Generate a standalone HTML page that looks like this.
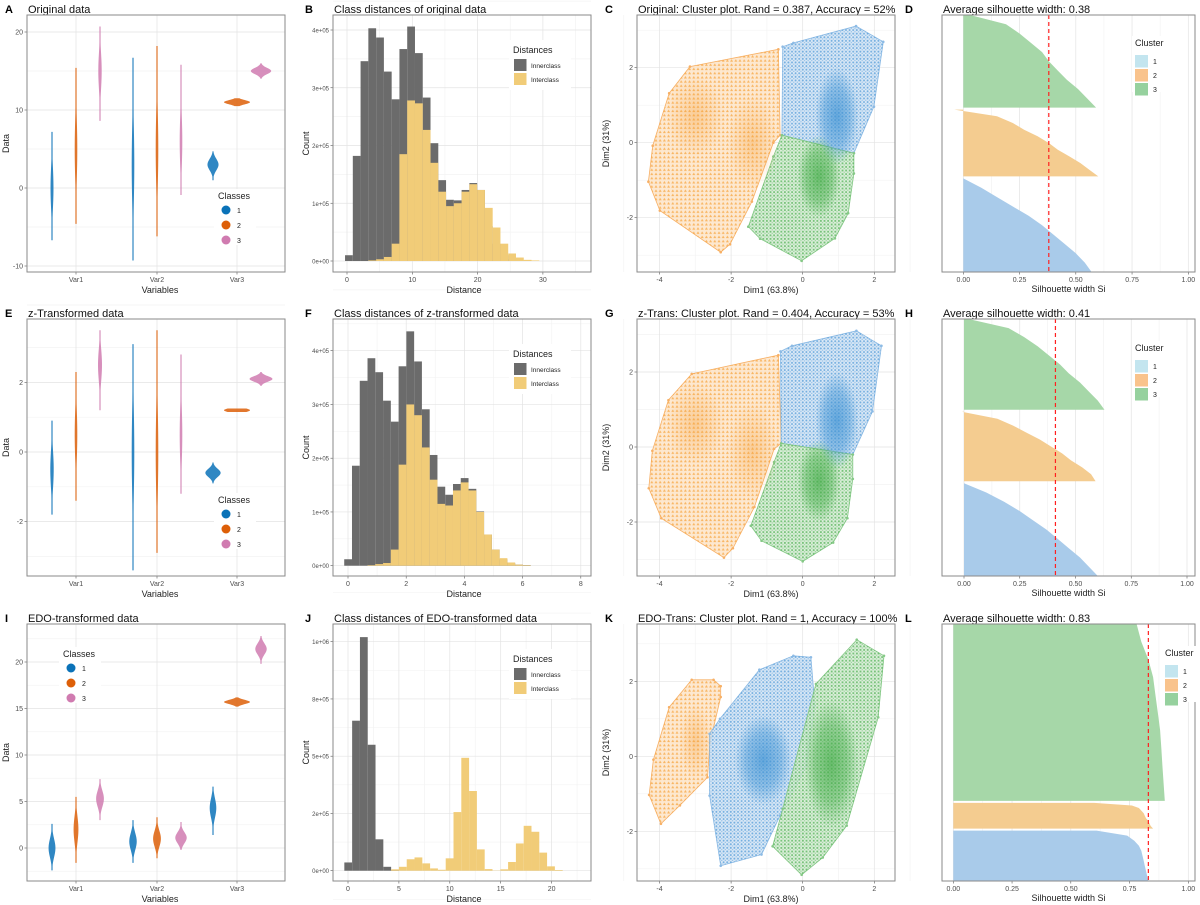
<!DOCTYPE html>
<html><head><meta charset="utf-8">
<style>
html,body{margin:0;padding:0;background:#fff;}
svg{display:block;font-family:"Liberation Sans",sans-serif;}
</style></head>
<body>
<svg id="fig" width="1200" height="905" viewBox="0 0 1200 905">
<defs>
<pattern id="pdot-blue" width="3.6" height="3.6" patternUnits="userSpaceOnUse"><circle cx="1.2" cy="1.2" r="1.0" fill="#4a98d6" opacity="0.7"/><circle cx="3" cy="3" r="0.8" fill="#4a98d6" opacity="0.45"/></pattern>
<pattern id="pdot-green" width="3.6" height="3.6" patternUnits="userSpaceOnUse"><rect x="0.4" y="0.4" width="1.8" height="1.8" fill="#4cb050" opacity="0.7"/><rect x="2.4" y="2.4" width="1.4" height="1.4" fill="#4cb050" opacity="0.45"/></pattern>
<pattern id="pdot-orange" width="4.2" height="4.2" patternUnits="userSpaceOnUse"><path d="M1.4 0.3 L2.9 2.9 L-0.1 2.9 Z" fill="#f7a136" opacity="0.7"/></pattern>
<radialGradient id="core-blue"><stop offset="0" stop-color="#3f93d4" stop-opacity="0.75"/><stop offset="0.6" stop-color="#3f93d4" stop-opacity="0.45"/><stop offset="1" stop-color="#3f93d4" stop-opacity="0"/></radialGradient>
<radialGradient id="core-green"><stop offset="0" stop-color="#46ad4b" stop-opacity="0.75"/><stop offset="0.6" stop-color="#46ad4b" stop-opacity="0.45"/><stop offset="1" stop-color="#46ad4b" stop-opacity="0"/></radialGradient>
<radialGradient id="core-orange"><stop offset="0" stop-color="#f59a2c" stop-opacity="0.35"/><stop offset="1" stop-color="#f59a2c" stop-opacity="0"/></radialGradient>
</defs>
</svg>
<script>
// ---------- DATA ----------
const violinVars = ['Var1','Var2','Var3'];
const classLabels = ['1','2','3'];
const A_min = [[-6.7,-4.6,8.6],[-9.3,-6.2,-0.9],[1.0,10.5,14.0]];
const A_mid = [[0,5,15],[3,5,6],[3,11,15]];
const A_max = [[7.2,15.4,20.7],[16.7,18.2,15.8],[4.7,11.5,16.0]];
const A_ticks = [-10,0,10,20];
const E_min = [[-1.8,-1.4,1.2],[-3.4,-2.9,-1.2],[-0.9,1.15,1.9]];
const E_mid = [[-0.5,0.5,2.5],[0,0,0.5],[-0.6,1.2,2.1]];
const E_max = [[0.9,2.3,3.5],[3.1,3.5,2.8],[-0.3,1.25,2.3]];
const E_ticks = [-2,0,2];
const I_min = [[-2.4,-1.6,3.0],[-1.6,-1.1,-0.2],[1.4,15.2,19.8]];
const I_mid = [[0,2,5.3],[0.7,1,1.1],[4.3,15.7,21.4]];
const I_max = [[2.6,5.5,7.4],[3.0,3.3,2.8],[6.6,16.2,22.8]];
const I_ticks = [0,5,10,15,20];

const B_inner = [0.1,1.82,3.46,4.03,3.87,3.28,2.8,3.67,4.06,3.6,2.83,2.04,1.4,1.06,1.05,1.23,1.35,1.23,0.6,0.3,0.1,0.03,0.01,0,0,0,0,0,0,0];
const B_inter = [0,0,0,0.01,0.03,0.07,0.3,1.85,2.78,2.73,2.27,1.7,1.2,0.95,1.0,1.2,1.33,1.23,0.92,0.58,0.3,0.13,0.06,0.02,0.01,0,0,0,0,0];
const B_xticks = [0,10,20,30];
const B_yticks = [0,1,2,3,4];
const B_ylabels = ['0e+00','1e+05','2e+05','3e+05','4e+05'];
const F_inner = [0.12,1.86,3.44,3.86,3.6,3.07,2.68,3.71,4.36,3.8,2.91,2.06,1.47,1.32,1.52,1.63,1.43,1.01,0.58,0.3,0.12,0.05,0.02,0.01,0,0,0,0,0,0];
const F_inter = [0,0,0,0.01,0.03,0.05,0.3,1.88,3.0,2.8,2.2,1.6,1.15,1.12,1.4,1.55,1.4,1.0,0.58,0.3,0.14,0.06,0.02,0.01,0,0,0,0,0,0];
const F_xticks = [0,2,4,6,8];
const F_yticks = [0,1,2,3,4];
const F_ylabels = ['0e+00','1e+05','2e+05','3e+05','4e+05'];
const J_inner = [0.36,6.55,10.2,5.5,1.37,0.17,0.03,0,0,0,0,0,0,0,0,0,0,0,0,0,0,0,0,0,0,0,0,0];
const J_inter = [0,0,0,0,0,0,0.06,0.17,0.5,0.58,0.32,0.1,0.04,0.54,2.56,4.93,3.48,0.93,0.07,0.01,0.06,0.38,1.19,1.96,1.7,0.79,0.19,0.03];
const J_xticks = [0,5,10,15,20];
const J_yticks = [0,2.5,5,7.5,10];
const J_ylabels = ['0e+00','2e+05','5e+05','8e+05','1e+06'];

const C_hull_orange = [[-0.68,2.49],[-3.15,2.03],[-3.73,1.32],[-4.19,-0.08],[-4.31,-1.04],[-3.99,-1.81],[-2.29,-2.92],[-2.03,-2.71],[-1.42,-1.57],[-0.82,0.0],[-0.63,0.2]];
const C_hull_blue = [[-0.56,2.56],[-0.26,2.66],[1.49,3.11],[2.25,2.69],[1.99,0.96],[1.43,-0.28],[-0.58,0.2]];
const C_hull_green = [[-0.58,0.2],[1.43,-0.28],[1.43,-0.82],[1.27,-1.88],[0.9,-2.55],[-0.03,-3.15],[-1.19,-2.56],[-1.52,-2.24],[-0.82,-0.37]];
const C_cores = [[0.95,0.7,0.6,1.3,'blue'],[0.45,-0.9,0.6,1.1,'green'],[-3.0,0.7,0.8,1.1,'orange'],[-1.4,0.0,0.7,1.3,'orange']];
const G_hull_orange = [[-0.68,2.45],[-3.1,1.95],[-3.75,1.25],[-4.2,-0.1],[-4.3,-1.1],[-3.95,-1.9],[-2.2,-2.95],[-1.95,-2.7],[-1.35,-1.6],[-0.8,-0.05],[-0.6,0.1]];
const G_hull_blue = [[-0.62,2.55],[-0.3,2.7],[1.5,3.1],[2.2,2.7],[1.95,0.95],[1.4,-0.2],[-0.6,0.1]];
const G_hull_green = [[-0.6,0.1],[1.4,-0.2],[1.4,-0.85],[1.25,-1.9],[0.85,-2.55],[0.0,-3.05],[-1.15,-2.5],[-1.45,-2.1],[-0.8,-0.4]];
const G_cores = [[0.95,0.7,0.6,1.3,'blue'],[0.45,-0.9,0.6,1.1,'green'],[-3.0,0.6,0.8,1.1,'orange'],[-1.4,-0.1,0.7,1.3,'orange']];
const K_hull_orange = [[-3.1,2.04],[-2.49,2.04],[-2.29,1.87],[-2.29,1.58],[-2.59,0.37],[-2.66,-0.56],[-3.43,-1.31],[-3.96,-1.8],[-4.29,-1.03],[-4.17,-0.09],[-3.73,1.31]];
const K_hull_blue = [[-1.21,2.31],[-0.26,2.68],[0.23,2.64],[0.34,1.35],[0.11,-0.25],[-0.63,-1.58],[-1.15,-2.62],[-2.29,-2.92],[-2.6,-1.05],[-2.6,0.6],[-2.31,1.0]];
const K_hull_green = [[1.51,3.11],[2.27,2.68],[2.11,1.04],[1.23,-1.85],[0.56,-2.7],[-0.03,-3.16],[-0.84,-2.4],[-0.56,-1.4],[0.37,1.93]];
const K_cores = [[0.8,-0.2,0.75,1.7,'green'],[-1.1,-0.1,0.8,1.2,'blue'],[-3.0,0.4,0.45,1.0,'orange']];
const scat_xticks = [-4,-2,0,2];
const scat_yticks = [-2,0,2];

const D_sil = [[0.0,0.08,0.15,0.22,0.29,0.35,0.4,0.45,0.5,0.54,0.57],[-0.04,0.15,0.22,0.27,0.33,0.38,0.42,0.47,0.52,0.56,0.6],[0.03,0.19,0.25,0.3,0.35,0.38,0.42,0.46,0.51,0.55,0.59]];
const D_size = [940,670,930];
const D_avg = 0.38;
const H_sil = [[0.0,0.1,0.18,0.25,0.31,0.37,0.42,0.47,0.52,0.56,0.6],[-0.01,0.15,0.22,0.28,0.34,0.39,0.44,0.48,0.53,0.57,0.59],[0.02,0.2,0.27,0.33,0.38,0.43,0.47,0.52,0.56,0.6,0.63]];
const H_size = [920,690,900];
const H_avg = 0.41;
const L_sil = [[0.61,0.74,0.77,0.79,0.8,0.805,0.81,0.815,0.82,0.825,0.83],[0.6,0.76,0.79,0.8,0.81,0.815,0.82,0.83,0.835,0.84,0.85],[0.78,0.8,0.83,0.85,0.86,0.87,0.88,0.885,0.89,0.895,0.9]];
const L_size = [510,260,1790];
const L_avg = 0.83;
const sil_xticks = [0,0.25,0.5,0.75,1];
const sil_xlabels = ['0.00','0.25','0.50','0.75','1.00'];

// ---------- DRAWING ----------
const NS='http://www.w3.org/2000/svg';
const svg=document.getElementById('fig');
function mk(tag,attrs,parent){const e=document.createElementNS(NS,tag);for(const k in attrs)e.setAttribute(k,attrs[k]);if(parent)parent.appendChild(e);return e;}
function tx(parent,x,y,s,size,anchor,fill,extra){const t=mk('text',Object.assign({x:x,y:y,'font-size':size,'text-anchor':anchor||'start',fill:fill||'#222'},extra||{}),parent);t.textContent=s;return t;}
const COLX=[0,300,600,900], ROWY=[0,304,609];
const BOX={T:15,B:272};
const TICKC='#4d4d4d', MAJ='#e3e3e3', MIN='#f3f3f3';

function panelGroup(col,row,name){
  const g=mk('g',{transform:'translate('+COLX[col]+','+ROWY[row]+')'},svg);
  
  
  return g;
}
function header(g,letter,title,L){
  const a=tx(g,5,13,letter,11,'start','#000',{'font-weight':'bold'});
  
  
  const t=tx(g,L+1,13,title,11,'start','#111');
  
  
}
function hl(g,y,L,R,c,w){mk('line',{x1:L,x2:R,y1:y,y2:y,stroke:c,'stroke-width':w||0.7},g);}
function vl(g,x,T,B,c,w){mk('line',{x1:x,x2:x,y1:T,y2:B,stroke:c,'stroke-width':w||0.7},g);}
function border(g,L,R){
  const r=mk('rect',{x:L,y:BOX.T,width:R-L,height:BOX.B-BOX.T,fill:'none',stroke:'#8a8a8a','stroke-width':1},g);
  
  
}
function ytick(g,L,y,label,fs){hl(g,y,L-2.5,L,'#555',0.6);const t=tx(g,L-4,y+2.5,label,fs||7,'end',TICKC);}
function xtick(g,x,label){vl(g,x,BOX.B,BOX.B+2.5,'#555',0.6);const t=tx(g,x,BOX.B+10,label,7,'middle',TICKC);}
function axisTitles(g,L,R,xt,yt){
  const a=tx(g,(L+R)/2,BOX.B+21,xt,9,'middle','#222');
  
  
  const cy=(BOX.T+BOX.B)/2;
  const b=tx(g,0,0,yt,9,'middle','#222',{transform:'translate(9,'+cy+') rotate(-90)'});
  
  
}

const CLASSCOL=['#0a72b8','#dd5f08','#d07bb0'];

function violinPanel(col,row,letter,title,mins,mids,maxs,ticks,y0,k,legendPos){
  const g=panelGroup(col,row,'violin-panel-'+letter.toLowerCase());
  const L=27,R=285; header(g,letter,title,L);
  const yv=v=>y0-v*k;
  const catX=[76,157,237];
  for(let i=0;i<ticks.length-1;i++){hl(g,yv((ticks[i]+ticks[i+1])/2),L,R,MIN);}
  hl(g,yv(ticks[0]-(ticks[1]-ticks[0])/2),L,R,MIN);
  hl(g,yv(ticks[ticks.length-1]+(ticks[1]-ticks[0])/2),L,R,MIN);
  ticks.forEach(t=>hl(g,yv(t),L,R,MAJ));
  catX.forEach(x=>vl(g,x,BOX.T,BOX.B,MAJ));
  for(let v=0;v<3;v++){for(let c=0;c<3;c++){
    const cx=catX[v]+(c-1)*24;
    const yTop=yv(maxs[v][c]), yBot=yv(mins[v][c]), yMid=yv(mids[v][c]);
    const pr=yBot-yTop;
    const w=Math.max(1.3,Math.min(13,160/pr));
    const pts=[];const N=24;
    const sd=Math.max(pr*0.28,3);
    for(let i=0;i<=N;i++){const y=yTop+pr*i/N;const ww=Math.max(0.6,w*Math.exp(-Math.pow((y-yMid)/sd,2)));pts.push((cx+ww).toFixed(2)+','+y.toFixed(2));}
    for(let i=N;i>=0;i--){const y=yTop+pr*i/N;const ww=Math.max(0.6,w*Math.exp(-Math.pow((y-yMid)/sd,2)));pts.push((cx-ww).toFixed(2)+','+y.toFixed(2));}
    const p=mk('polygon',{points:pts.join(' '),fill:CLASSCOL[c],opacity:0.85},g);
    
    
  }}
  ticks.forEach(t=>ytick(g,L,yv(t),String(t)));
  catX.forEach((x,i)=>xtick(g,x,violinVars[i]));
  border(g,L,R);
  axisTitles(g,L+8,R,'Variables','Data');
  const lg=mk('g',{},g);
  
  
  mk('rect',{x:legendPos[0]-4,y:legendPos[1]-10,width:42,height:56,fill:'#fff'},lg);
  tx(lg,legendPos[0],legendPos[1],'Classes',9,'start','#222');
  classLabels.forEach((lab,i)=>{
    const yy=legendPos[1]+14+i*15;
    const cc=mk('circle',{cx:legendPos[0]+8,cy:yy-3,r:4.5,fill:CLASSCOL[i]},lg);
    
    
    tx(lg,legendPos[0]+19,yy,lab,7,'start','#222');
  });
}
violinPanel(0,0,'A','Original data',A_min,A_mid,A_max,A_ticks,188,7.8,[218,199]);
violinPanel(0,1,'E','z-Transformed data',E_min,E_mid,E_max,E_ticks,148,34.8,[218,199]);
violinPanel(0,2,'I','EDO-transformed data',I_min,I_mid,I_max,I_ticks,239,9.3,[63,48]);

function histPanel(col,row,letter,title,inner,inter,start,bw,x0,kx,y0,ky,xticks,yticks,ylabels,xminor){
  const g=panelGroup(col,row,'histogram-panel-'+letter.toLowerCase());
  const L=33,R=291; header(g,letter,title,L);
  const xs=u=>x0+u*kx, ys=c=>y0-c*ky;
  for(let i=0;i<yticks.length;i++){const d=yticks[1]-yticks[0];hl(g,ys(yticks[i]+d/2),L,R,MIN);}
  hl(g,ys(yticks[0]-(yticks[1]-yticks[0])/2),L,R,MIN);
  xminor.forEach(u=>vl(g,xs(u),BOX.T,BOX.B,MIN));
  yticks.forEach(t=>hl(g,ys(t),L,R,MAJ));
  xticks.forEach(t=>vl(g,xs(t),BOX.T,BOX.B,MAJ));
  inner.forEach((c,i)=>{if(c<=0)return;const r=mk('rect',{x:xs(start+i*bw),y:ys(c),width:bw*kx,height:ys(0)-ys(c),fill:'#6b6b6b'},g);
    
    });
  inter.forEach((c,i)=>{if(c<=0)return;const r=mk('rect',{x:xs(start+i*bw),y:ys(c),width:bw*kx,height:ys(0)-ys(c),fill:'#f1cc78'},g);
    
    });
  yticks.forEach((t,i)=>ytick(g,L,ys(t),ylabels[i],6));
  xticks.forEach(t=>xtick(g,xs(t),String(t)));
  border(g,L,R);
  axisTitles(g,L+4,R,'Distance','Count');
  const lg=mk('g',{},g);
  
  
  mk('rect',{x:209,y:40,width:62,height:50,fill:'#fff'},lg);
  tx(lg,213,53,'Distances',9,'start','#222');
  const k1=mk('rect',{x:214,y:59,width:12.5,height:12,fill:'#6b6b6b'},lg);
  
  
  const k2=mk('rect',{x:214,y:73,width:12.5,height:12,fill:'#f1cc78'},lg);
  
  
  tx(lg,231,68,'Innerclass',6.5,'start','#222');
  tx(lg,231,82,'Interclass',6.5,'start','#222');
}
histPanel(1,0,'B','Class distances of original data',B_inner,B_inter,-0.3,1.19,47,6.53,261,57.75,B_xticks,B_yticks,B_ylabels,[5,15,25,35]);
histPanel(1,1,'F','Class distances of z-transformed data',F_inner,F_inter,-0.13,0.267,48,29.1,261.7,53.75,F_xticks,F_yticks,F_ylabels,[1,3,5,7]);
histPanel(1,2,'J','Class distances of EDO-transformed data',J_inner,J_inter,-0.36,0.766,48,10.18,261.7,22.9,J_xticks,J_yticks,J_ylabels,[2.5,7.5,12.5,17.5,22.5]);

const HULLSTYLE={blue:['#d3e4f4','#8dbbe5','pdot-blue','core-blue'],orange:['#fde4c8','#f7b066','pdot-orange','core-orange'],green:['#d4ebd2','#86c987','pdot-green','core-green']};
function scatterPanel(col,row,letter,title,hulls,cores,y0){
  const g=panelGroup(col,row,'cluster-panel-'+letter.toLowerCase());
  const L=37,R=295; header(g,letter,title,L);
  const xs=u=>202.7+u*35.8, ys=v=>y0-v*37.5;
  [-5,-3,-1,1,3].forEach(u=>vl(g,xs(u),BOX.T,BOX.B,MIN));
  [-3,-1,1,3].forEach(v=>hl(g,ys(v),L,R,MIN));
  scat_xticks.forEach(u=>vl(g,xs(u),BOX.T,BOX.B,MAJ));
  scat_yticks.forEach(v=>hl(g,ys(v),L,R,MAJ));
  hulls.forEach(h=>{
    const st=HULLSTYLE[h[0]];
    const pts=h[1].map(p=>xs(p[0]).toFixed(1)+','+ys(p[1]).toFixed(1)).join(' ');
    const poly=mk('polygon',{points:pts,fill:st[0],'fill-opacity':0.85,stroke:st[1],'stroke-width':0.8},g);
    
    
    const dots=mk('polygon',{points:pts,fill:'url(#'+st[2]+')'},g);
    
    
    h[1].forEach(p=>{mk('circle',{cx:xs(p[0]),cy:ys(p[1]),r:1.3,fill:st[1]},g);});
  });
  cores.forEach(c=>{
    const e=mk('ellipse',{cx:xs(c[0]),cy:ys(c[1]),rx:c[2]*35.8,ry:c[3]*37.5,fill:'url(#'+HULLSTYLE[c[4]][3]+')'},g);
    
    
  });
  scat_yticks.forEach(v=>ytick(g,L,ys(v),String(v)));
  scat_xticks.forEach(u=>xtick(g,xs(u),String(u)));
  border(g,L,R);
  axisTitles(g,L+10,R,'Dim1 (63.8%)','Dim2 (31%)');
}
scatterPanel(2,0,'C','Original: Cluster plot. Rand = 0.387, Accuracy = 52%',[['orange',C_hull_orange],['blue',C_hull_blue],['green',C_hull_green]],C_cores,142.7);
scatterPanel(2,1,'G','z-Trans: Cluster plot. Rand = 0.404, Accuracy = 53%',[['orange',G_hull_orange],['blue',G_hull_blue],['green',G_hull_green]],G_cores,143);
scatterPanel(2,2,'K','EDO-Trans: Cluster plot. Rand = 1, Accuracy = 100%',[['orange',K_hull_orange],['blue',K_hull_blue],['green',K_hull_green]],K_cores,147.3);

const SILCOL=['#a9cbea','#f4cc90','#a6d7a8'];
const SILKEY=['#b9e0ec','#f8b878','#84c98d'];
function silPanel(col,row,letter,avg,sil,sizes,x0,kx,legendPos){
  const g=panelGroup(col,row,'silhouette-panel-'+letter.toLowerCase());
  const L=42,R=295; header(g,letter,'Average silhouette width: '+avg.toFixed(2),L);
  const xs=s=>x0+s*kx;
  [0.125,0.375,0.625,0.875].forEach(s=>vl(g,xs(s),BOX.T,BOX.B,MIN));
  sil_xticks.forEach(s=>vl(g,xs(s),BOX.T,BOX.B,MAJ));
  const gap=2, total=sizes.reduce((a,b)=>a+b,0);
  const avail=BOX.B-BOX.T-gap*2;
  let yb=BOX.B;
  for(let c=0;c<3;c++){
    const h=avail*sizes[c]/total; const yt=yb-h;
    const prof=sil[c]; const n=prof.length;
    const pts=[xs(0).toFixed(1)+','+yt.toFixed(1)];
    prof.forEach((s,i)=>pts.push(xs(s).toFixed(1)+','+(yt+h*i/(n-1)).toFixed(1)));
    pts.push(xs(0).toFixed(1)+','+yb.toFixed(1));
    const p=mk('polygon',{points:pts.join(' '),fill:SILCOL[c]},g);
    
    
    yb=yt-gap;
  }
  const al=mk('line',{x1:xs(avg),x2:xs(avg),y1:BOX.T,y2:BOX.B,stroke:'#ff2020','stroke-width':1.2,'stroke-dasharray':'4,3'},g);
  
  
  sil_xticks.forEach((s,i)=>xtick(g,xs(s),sil_xlabels[i]));
  border(g,L,R);
  const xt=tx(g,(L+R)/2,BOX.B+20,'Silhouette width Si',9,'middle','#222');
  
  
  const lg=mk('g',{},g);
  
  
  mk('rect',{x:legendPos[0]-3,y:legendPos[1]-10,width:36,height:56,fill:'#fff'},lg);
  tx(lg,legendPos[0],legendPos[1],'Cluster',9,'start','#222');
  classLabels.forEach((lab,i)=>{
    const yy=legendPos[1]+9+i*14;
    const r=mk('rect',{x:legendPos[0],y:yy,width:13,height:12.5,fill:SILKEY[i],opacity:0.85},lg);
    
    
    tx(lg,legendPos[0]+18,yy+9,lab,7,'start','#222');
  });
}
silPanel(3,0,'D',D_avg,D_sil,D_size,63.3,225,[235,46]);
silPanel(3,1,'H',H_avg,H_sil,H_size,64,223,[235,47]);
silPanel(3,2,'L',L_avg,L_sil,L_size,53.3,235,[265,47]);
</script>
</body></html>
